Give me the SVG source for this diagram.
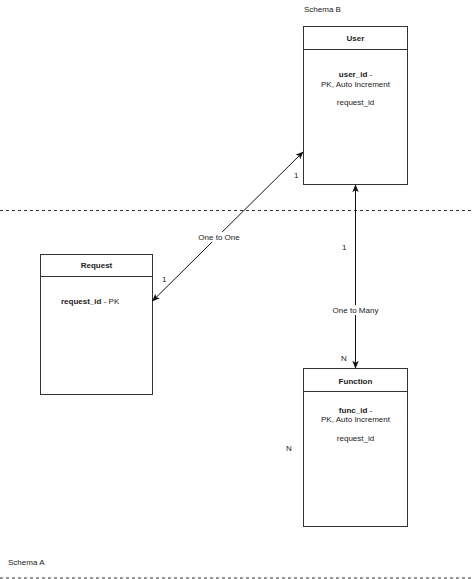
<svg xmlns="http://www.w3.org/2000/svg" width="474" height="579" viewBox="0 0 474 579">
<style>
text{font-family:"Liberation Sans",Arial,sans-serif;font-size:8px;fill:#222}
.b{font-weight:bold}
.box{fill:#fff;stroke:#333;stroke-width:1}
.edge{stroke:#111;stroke-width:1;fill:none}
.sep{stroke:#333;stroke-width:1;stroke-dasharray:3,3}
</style>
<defs>
<marker id="ah" viewBox="0 0 10 10" refX="9" refY="5" markerWidth="8" markerHeight="8" orient="auto-start-reverse" markerUnits="userSpaceOnUse">
<path d="M0,1 L10,5 L0,9 L2.5,5 z" fill="#111"/>
</marker>
</defs>
<rect width="474" height="579" fill="#fff"/>
<g id="separators">
<line class="sep" x1="0" y1="210.5" x2="474" y2="210.5"/>
<line class="sep" x1="0" y1="578" x2="474" y2="578" stroke-dasharray="2,2" stroke="#888"/>
</g>
<g id="labels">
<text x="304" y="12">Schema B</text>
<text x="8" y="565">Schema A</text>
</g>
<g id="user">
<rect class="box" x="303.5" y="26.5" width="104" height="158"/>
<line class="box" x1="303.5" y1="49.5" x2="407.5" y2="49.5"/>
<text class="b" x="355.5" y="41" text-anchor="middle">User</text>
<text x="355.5" y="77" text-anchor="middle"><tspan class="b">user_id</tspan> -</text>
<text x="355.5" y="87" text-anchor="middle">PK, Auto Increment</text>
<text x="355.5" y="105" text-anchor="middle">request_id</text>
</g>
<g id="request">
<rect class="box" x="40.5" y="254.5" width="112" height="140"/>
<line class="box" x1="40.5" y1="276.5" x2="152.5" y2="276.5"/>
<text class="b" x="96.5" y="268" text-anchor="middle">Request</text>
<text x="61" y="304"><tspan class="b">request_id</tspan> - PK</text>
</g>
<g id="function">
<rect class="box" x="303.5" y="368.5" width="104" height="158"/>
<line class="box" x1="303.5" y1="391.5" x2="407.5" y2="391.5"/>
<text class="b" x="355.5" y="384" text-anchor="middle">Function</text>
<text x="355.5" y="413" text-anchor="middle"><tspan class="b">func_id</tspan> -</text>
<text x="355.5" y="422" text-anchor="middle">PK, Auto Increment</text>
<text x="355.5" y="441" text-anchor="middle">request_id</text>
</g>
<g id="connectors">
<line class="edge" x1="152.5" y1="301" x2="303" y2="152" marker-start="url(#ah)" marker-end="url(#ah)"/>
<line class="edge" x1="355.5" y1="185" x2="355.5" y2="368" marker-start="url(#ah)" marker-end="url(#ah)"/>
<rect x="199" y="232" width="40" height="10" fill="#fff"/>
<text x="219" y="240" text-anchor="middle">One to One</text>
<rect x="333" y="305" width="45" height="10" fill="#fff"/>
<text x="355.5" y="313" text-anchor="middle">One to Many</text>
<text x="294" y="178">1</text>
<text x="162" y="282">1</text>
<text x="342" y="250">1</text>
<text x="341" y="361">N</text>
<text x="286" y="451">N</text>
</g>
</svg>
